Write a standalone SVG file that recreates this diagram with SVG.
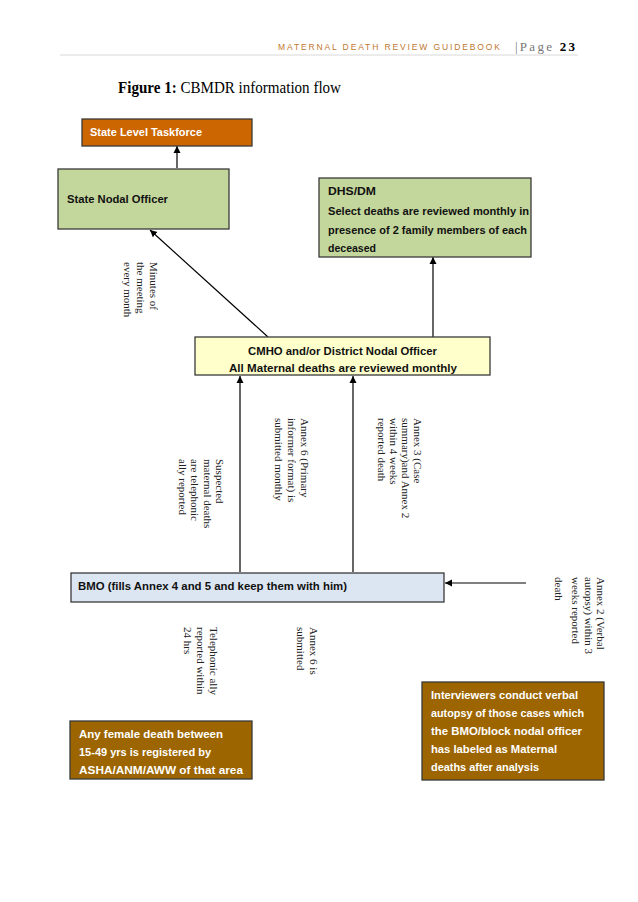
<svg xmlns="http://www.w3.org/2000/svg" width="638" height="902" viewBox="0 0 638 902">
<defs>
<marker id="ah" markerWidth="9" markerHeight="9" refX="7" refY="4" orient="auto" markerUnits="userSpaceOnUse"><path d="M0,0.5 L7,4 L0,7.5 z" fill="#000"/></marker>
<style>
.box{stroke:#3a3a3a;stroke-width:1.3}
.bt{font-family:"Liberation Sans",Arial,sans-serif;font-weight:bold;font-size:11px;fill:#111}
.wt{font-family:"Liberation Sans",Arial,sans-serif;font-weight:bold;font-size:11px;fill:#fff}
.rot{font-family:"Liberation Serif","Times New Roman",serif;font-size:11px;fill:#222}
.con{stroke:#000;stroke-width:1.2;fill:none;marker-end:url(#ah)}
</style>
</defs>
<rect width="638" height="902" fill="#fff"/>
<g id="header">
<text x="278" y="50" font-family="Liberation Sans,Arial,sans-serif" font-size="8.5" fill="#c0762f" textLength="222" lengthAdjust="spacing">MATERNAL DEATH REVIEW GUIDEBOOK</text>
<text x="515" y="51" font-family="Liberation Serif,Times New Roman,serif" font-size="13" fill="#777" textLength="60" lengthAdjust="spacing">|Page <tspan font-weight="bold" fill="#000">23</tspan></text>
<line x1="60" y1="55" x2="578" y2="55" stroke="#d8d8d8" stroke-width="1"/>
</g>
<g id="title">
<text x="118" y="93" font-family="Liberation Serif,Times New Roman,serif" font-size="16" fill="#000" textLength="223" lengthAdjust="spacingAndGlyphs"><tspan font-weight="bold">Figure 1:</tspan> CBMDR information flow</text>
</g>
<g id="connectors">
<line class="con" x1="177" y1="168" x2="177" y2="146"/>
<line class="con" x1="268" y1="337" x2="150" y2="230"/>
<line class="con" x1="433" y1="337" x2="433" y2="257"/>
<line class="con" x1="240" y1="572" x2="240" y2="376"/>
<line class="con" x1="353" y1="572" x2="353" y2="376"/>
<line class="con" x1="526" y1="583" x2="445" y2="583"/>
</g>
<g id="state-taskforce">
<rect class="box" x="82" y="119" width="170" height="27" fill="#cc6600"/>
<text class="wt" x="90" y="136" textLength="112" lengthAdjust="spacingAndGlyphs">State Level Taskforce</text>
</g>
<g id="state-nodal">
<rect class="box" x="58" y="169" width="171" height="60" fill="#c3d69b"/>
<text class="bt" x="67" y="203" textLength="101" lengthAdjust="spacingAndGlyphs">State Nodal Officer</text>
</g>
<g id="dhs-dm">
<rect class="box" x="319" y="178" width="212" height="79" fill="#c3d69b"/>
<text class="bt" x="328" y="195" textLength="48" lengthAdjust="spacingAndGlyphs">DHS/DM</text>
<text class="bt" x="328" y="215" textLength="201" lengthAdjust="spacingAndGlyphs">Select deaths are reviewed monthly in</text>
<text class="bt" x="328" y="234" textLength="199" lengthAdjust="spacingAndGlyphs">presence of 2 family members of each</text>
<text class="bt" x="328" y="252" textLength="48" lengthAdjust="spacingAndGlyphs">deceased</text>
</g>
<g id="cmho">
<rect class="box" x="195" y="337" width="295" height="38" fill="#ffffcc"/>
<text class="bt" x="248" y="355" textLength="189" lengthAdjust="spacingAndGlyphs">CMHO and/or District Nodal Officer</text>
<text class="bt" x="229" y="372" textLength="228" lengthAdjust="spacingAndGlyphs">All Maternal deaths are reviewed monthly</text>
</g>
<g id="bmo">
<rect class="box" x="71" y="573" width="373" height="29" fill="#dce6f2"/>
<text class="bt" x="78" y="590" textLength="269" lengthAdjust="spacingAndGlyphs">BMO (fills Annex 4 and 5 and keep them with him)</text>
</g>
<g id="asha">
<rect class="box" x="70" y="721" width="182" height="58" fill="#9c6500"/>
<text class="wt" x="79" y="738" textLength="144" lengthAdjust="spacingAndGlyphs">Any female death between</text>
<text class="wt" x="79" y="756" textLength="132" lengthAdjust="spacingAndGlyphs">15-49 yrs is registered by</text>
<text class="wt" x="79" y="774" textLength="164" lengthAdjust="spacingAndGlyphs">ASHA/ANM/AWW of that area</text>
</g>
<g id="interviewers">
<rect class="box" x="422" y="682" width="182" height="98" fill="#9c6500"/>
<text class="wt" x="431" y="699" textLength="147" lengthAdjust="spacingAndGlyphs">Interviewers conduct verbal</text>
<text class="wt" x="431" y="717" textLength="153" lengthAdjust="spacingAndGlyphs">autopsy of those cases which</text>
<text class="wt" x="431" y="735" textLength="151" lengthAdjust="spacingAndGlyphs">the BMO/block nodal officer</text>
<text class="wt" x="431" y="753" textLength="126" lengthAdjust="spacingAndGlyphs">has labeled as Maternal</text>
<text class="wt" x="431" y="771" textLength="108" lengthAdjust="spacingAndGlyphs">deaths after analysis</text>
</g>
<g id="labels">
<text class="rot" transform="translate(150,262) rotate(90)"><tspan x="0" y="0">Minutes of</tspan><tspan x="0" y="13">the meeting</tspan><tspan x="0" y="26">every month</tspan></text>
<text class="rot" font-size="10" transform="translate(216,459) rotate(90)"><tspan x="0" y="0">Suspected</tspan><tspan x="0" y="12.5">maternal deaths</tspan><tspan x="0" y="25">are telephonic</tspan><tspan x="0" y="37.5">ally reported</tspan></text>
<text class="rot" transform="translate(300.5,418) rotate(90)"><tspan x="0" y="0">Annex 6 (Primary</tspan><tspan x="0" y="13">informer format) is</tspan><tspan x="0" y="26">submitted monthly</tspan></text>
<text class="rot" transform="translate(414,418) rotate(90)"><tspan x="0" y="0">Annex 3 (Case</tspan><tspan x="0" y="12">summary)and Annex 2</tspan><tspan x="0" y="24">within 4 weeks</tspan><tspan x="0" y="36">reported death</tspan></text>
<text class="rot" transform="translate(597,577) rotate(90)"><tspan x="0" y="0">Annex 2 (Verbal</tspan><tspan x="0" y="12">autopsy) within 3</tspan><tspan x="0" y="25">weeks reported</tspan><tspan x="0" y="42">death</tspan></text>
<text class="rot" transform="translate(210,627) rotate(90)"><tspan x="0" y="0">Telephonic ally</tspan><tspan x="0" y="13">reported within</tspan><tspan x="0" y="26">24 hrs</tspan></text>
<text class="rot" transform="translate(309.5,627) rotate(90)"><tspan x="0" y="0">Annex 6 is</tspan><tspan x="0" y="13">submitted</tspan></text>
</g>
</svg>
